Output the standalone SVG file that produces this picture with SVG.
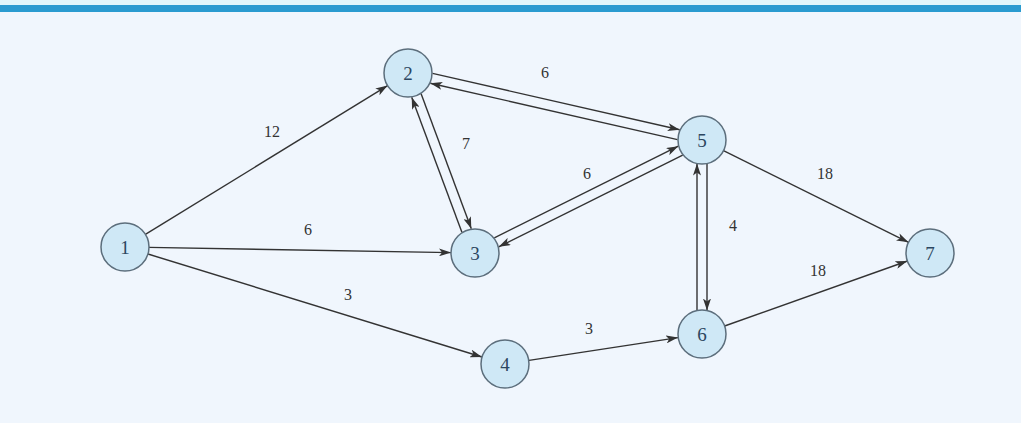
<svg xmlns="http://www.w3.org/2000/svg" width="1021" height="423" viewBox="0 0 1021 423">
<style>
.n circle{fill:#cfe8f6;stroke:#5c6e7c;stroke-width:1.5}
.n text{font-family:"Liberation Serif",serif;font-size:19px;fill:#2c4660;text-anchor:middle}
.e line{stroke:#333;stroke-width:1.4;marker-end:url(#a)}
.l{font-family:"Liberation Serif",serif;font-size:16px;fill:#333;text-anchor:middle}
</style>
<defs><marker id="a" viewBox="0 0 12 8" refX="12" refY="4" markerWidth="12" markerHeight="8" markerUnits="userSpaceOnUse" orient="auto"><path d="M0,0L12,4L0,8L3,4Z" fill="#333"/></marker></defs>
<rect width="1021" height="423" fill="#f0f6fd"/>
<rect y="0" width="1021" height="5" fill="#e0f6fb"/>
<rect y="5" width="1021" height="7" fill="#2a9bd0"/>
<g id="edges" class="e">
<line x1="145.4" y1="234.4" x2="387.6" y2="85.6"/>
<line x1="149" y1="247.4" x2="451" y2="252.6"/>
<line x1="148" y1="254" x2="482" y2="357"/>
<line x1="529" y1="360.4" x2="678" y2="337.6"/>
<line x1="724.6" y1="326" x2="907.4" y2="261"/>
<line x1="723.5" y1="150.7" x2="908.5" y2="242.3"/>
<line x1="432.5" y1="73.4" x2="679.7" y2="129.8"/>
<line x1="677.5" y1="139.6" x2="430.3" y2="83.2"/>
<line x1="421.1" y1="93.8" x2="471.3" y2="228.8"/>
<line x1="461.9" y1="232.2" x2="411.7" y2="97.2"/>
<line x1="494.3" y1="237.8" x2="678.3" y2="146.2"/>
<line x1="682.7" y1="155.2" x2="498.7" y2="246.8"/>
<line x1="707" y1="163.5" x2="707" y2="310.5"/>
<line x1="697" y1="310.5" x2="697" y2="163.5"/>
</g>
<g id="labels">
<text class="l" x="272" y="137">12</text>
<text class="l" x="545" y="78">6</text>
<text class="l" x="466" y="149">7</text>
<text class="l" x="587" y="179">6</text>
<text class="l" x="308" y="235">6</text>
<text class="l" x="825" y="179">18</text>
<text class="l" x="733" y="231">4</text>
<text class="l" x="348" y="300">3</text>
<text class="l" x="589" y="334">3</text>
<text class="l" x="818" y="276">18</text>
</g>
<g id="node1" class="n"><circle cx="125" cy="247" r="24"/><text x="125" y="254">1</text></g>
<g id="node2" class="n"><circle cx="408" cy="73" r="24"/><text x="408" y="80">2</text></g>
<g id="node3" class="n"><circle cx="475" cy="253" r="24"/><text x="475" y="260">3</text></g>
<g id="node4" class="n"><circle cx="505" cy="364" r="24"/><text x="505" y="371">4</text></g>
<g id="node5" class="n"><circle cx="702" cy="140" r="24"/><text x="702" y="147">5</text></g>
<g id="node6" class="n"><circle cx="702" cy="334" r="24"/><text x="702" y="341">6</text></g>
<g id="node7" class="n"><circle cx="930" cy="253" r="24"/><text x="930" y="260">7</text></g>
</svg>
